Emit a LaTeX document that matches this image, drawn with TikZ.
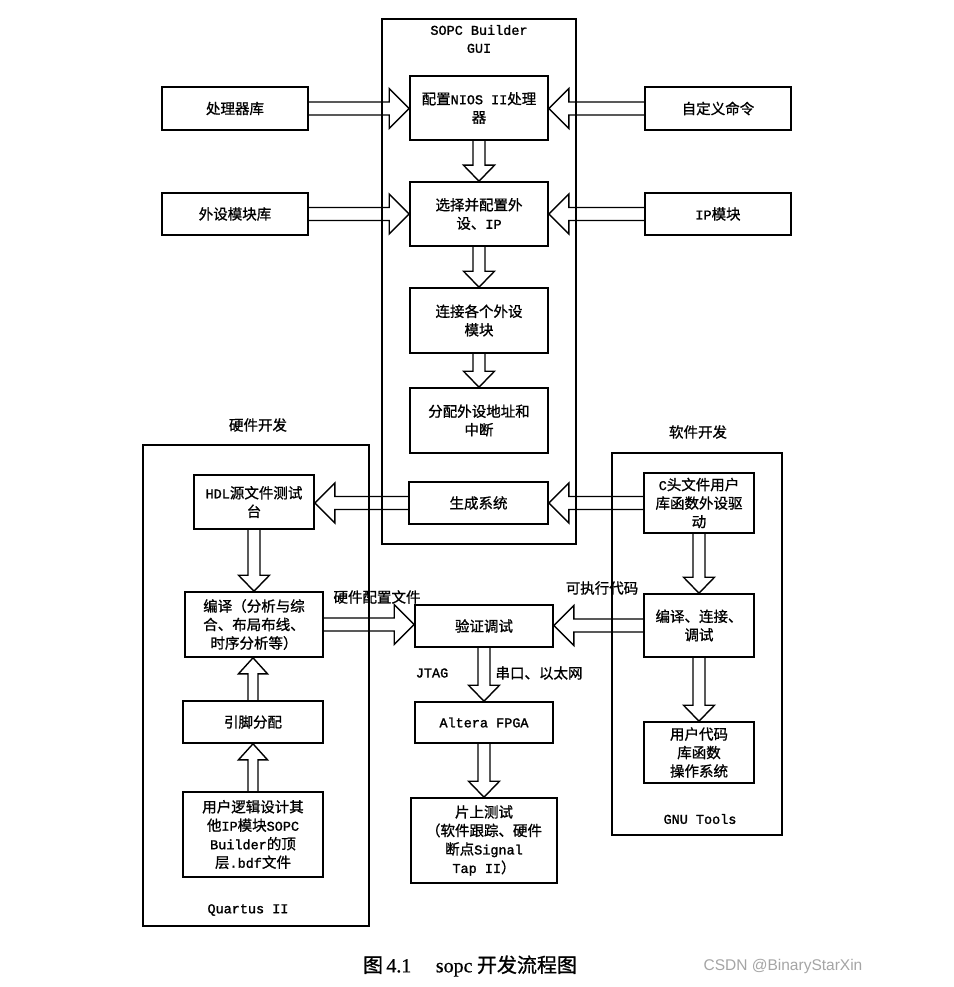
\documentclass[tikz,border=0pt]{standalone}
\usepackage{fontspec}
\setmainfont{Noto Sans CJK SC}[FakeBold=1]
\newfontfamily\lat{Liberation Mono}[Scale=0.93, FakeBold=1.5]
\newfontfamily\capserif{Liberation Serif}[FakeBold=0.6]
\newfontfamily\wmfont{Liberation Sans}
\usetikzlibrary{calc}
\definecolor{wmgray}{RGB}{165,165,165}
\tikzset{
 box/.style={draw, line width=1.6pt, inner sep=0pt, align=center, font=\fontsize{14.5}{18.5}\selectfont},
 frame/.style={draw, line width=1.5pt, inner sep=0pt},
 fat/.style={draw, line width=1.4pt, line join=miter},
 lbl/.style={font=\fontsize{14.5}{18}\selectfont, inner sep=0pt, align=center},
}
\newcommand\fatR[2]{\draw[fat] let \p1=(#1),\p2=(#2) in (\x1,\y1+6.5pt) -- (\x2-20pt,\y1+6.5pt) -- (\x2-20pt,\y1+20pt) -- (\x2,\y1) -- (\x2-20pt,\y1-20pt) -- (\x2-20pt,\y1-6.5pt) -- (\x1,\y1-6.5pt);}
\newcommand\fatL[2]{\draw[fat] let \p1=(#1),\p2=(#2) in (\x1,\y1+6.5pt) -- (\x2+20pt,\y1+6.5pt) -- (\x2+20pt,\y1+20pt) -- (\x2,\y1) -- (\x2+20pt,\y1-20pt) -- (\x2+20pt,\y1-6.5pt) -- (\x1,\y1-6.5pt);}
\newcommand\fatD[2]{\draw[fat] let \p1=(#1),\p2=(#2) in (\x1-6pt,\y1) -- (\x1-6pt,\y2+16pt) -- (\x1-15.5pt,\y2+16pt) -- (\x1,\y2) -- (\x1+15.5pt,\y2+16pt) -- (\x1+6pt,\y2+16pt) -- (\x1+6pt,\y1);}
\newcommand\fatU[2]{\draw[fat] let \p1=(#1),\p2=(#2) in (\x1-5pt,\y1) -- (\x1-5pt,\y2-16pt) -- (\x1-14.5pt,\y2-16pt) -- (\x1,\y2) -- (\x1+14.5pt,\y2-16pt) -- (\x1+5pt,\y2-16pt) -- (\x1+5pt,\y1);}
\begin{document}
\begin{tikzpicture}[x=1pt,y=-1pt]
\useasboundingbox[fill=white] (0,0) rectangle (953,987);
% containers
\node[frame, minimum width=194pt, minimum height=525pt] (sopc) at (479,281.5) {};
\node[frame, minimum width=226pt, minimum height=481pt] (hw) at (256,685.5) {};
\node[frame, minimum width=170pt, minimum height=382pt] (sw) at (697,644) {};
% container labels
\node[lbl, font=\fontsize{14.5}{18}\selectfont\lat] (sopct) at (479,39) {SOPC Builder\\GUI};
\node[lbl] (hwt) at (258,425) {硬件开发};
\node[lbl] (swt) at (698,432) {软件开发};
\node[lbl, font=\fontsize{14.5}{18}\selectfont\lat] (qt) at (248,910) {Quartus II};
\node[lbl, font=\fontsize{14.5}{18}\selectfont\lat] (gt) at (700,819) {GNU Tools};
% SOPC column
\node[box, minimum width=146pt, minimum height=43pt] (proc) at (235,108.5) {处理器库};
\node[box, minimum width=138pt, minimum height=64pt] (nios) at (479,108) {配置{\lat NIOS II}处理\\器};
\node[box, minimum width=146pt, minimum height=43pt] (cmd) at (718,108.5) {自定义命令};
\node[box, minimum width=146pt, minimum height=42pt] (perlib) at (235,214) {外设模块库};
\node[box, minimum width=138pt, minimum height=64pt] (sel) at (479,214) {选择并配置外\\设、{\lat IP}};
\node[box, minimum width=146pt, minimum height=42pt] (ip) at (718,214) {{\lat IP}模块};
\node[box, minimum width=138pt, minimum height=65pt] (conn) at (479,320.5) {连接各个外设\\模块};
\node[box, minimum width=138pt, minimum height=65pt] (addr) at (479,420.5) {分配外设地址和\\中断};
\node[box, minimum width=139pt, minimum height=42pt] (gen) at (478.5,503) {生成系统};
% hardware
\node[box, minimum width=120pt, minimum height=54pt] (hdl) at (254,502) {{\lat HDL}源文件测试\\台};
\node[box, minimum width=138pt, minimum height=65pt] (hcomp) at (254,624.5) {编译（分析与综\\合、布局布线、\\时序分析等）};
\node[box, minimum width=140pt, minimum height=42pt] (pins) at (253,722) {引脚分配};
\node[box, minimum width=140pt, minimum height=85pt] (ulogic) at (253,834.5) {用户逻辑设计其\\他{\lat IP}模块{\lat SOPC}\\{\lat Builder}的顶\\层{\lat .bdf}文件};
% middle
\node[box, minimum width=138pt, minimum height=42pt] (verify) at (484,626) {验证调试};
\node[box, minimum width=138pt, minimum height=41pt, font=\fontsize{14.5}{18.5}\selectfont\lat] (fpga) at (484,722.5) {Altera FPGA};
\node[box, minimum width=146pt, minimum height=85pt] (chip) at (484,840.5) {片上测试\\（软件跟踪、硬件\\断点{\lat Signal}\\{\lat Tap II}）};
% software
\node[box, minimum width=110pt, minimum height=60pt] (chead) at (699,503) {{\lat C}头文件用户\\库函数外设驱\\动};
\node[box, minimum width=110pt, minimum height=63pt] (scomp) at (699,625.5) {编译、连接、\\调试};
\node[box, minimum width=110pt, minimum height=61pt] (ucode) at (699,752.5) {用户代码\\库函数\\操作系统};
% arrow labels
\node[lbl] (lcfg) at (377,597) {硬件配置文件};
\node[lbl] (lexe) at (602,588) {可执行代码};
\node[lbl, font=\fontsize{14.5}{18}\selectfont\lat] (ljtag) at (432,673) {JTAG};
\node[lbl] (lser) at (539,673) {串口、以太网};
% fat arrows
\fatR{proc.east}{nios.west}
\fatL{cmd.west}{nios.east}
\fatR{perlib.east}{sel.west}
\fatL{ip.west}{sel.east}
\fatD{nios.south}{sel.north}
\fatD{sel.south}{conn.north}
\fatD{conn.south}{addr.north}
\fatL{gen.west}{hdl.east}
\fatL{chead.west}{gen.east}
\fatD{hdl.south}{hcomp.north}
\fatU{pins.north}{hcomp.south}
\fatU{ulogic.north}{pins.south}
\fatR{hcomp.east}{verify.west}
\fatL{scomp.west}{verify.east}
\fatD{verify.south}{fpga.north}
\fatD{fpga.south}{chip.north}
\fatD{chead.south}{scomp.north}
\fatD{scomp.south}{ucode.north}
% caption and watermark
\node[inner sep=0pt, font=\fontsize{20}{24}\selectfont] (cap) at (470,966) {图\,{\capserif 4.1}\quad\ {\capserif sopc} 开发流程图};
\node[inner sep=0pt, font=\fontsize{15.5}{18}\selectfont\wmfont, text=wmgray] (wm) at (783,966) {CSDN @BinaryStarXin};
\end{tikzpicture}
\end{document}
